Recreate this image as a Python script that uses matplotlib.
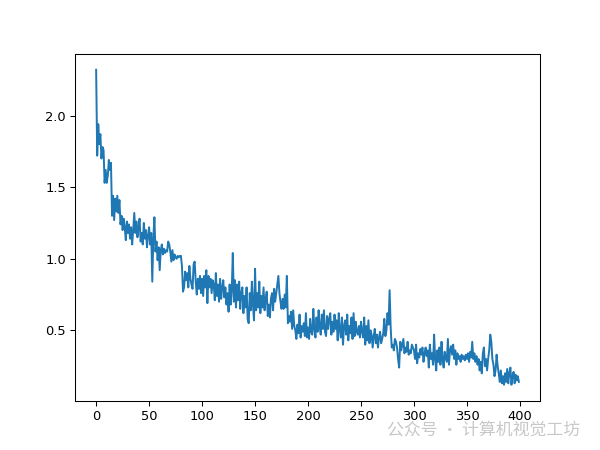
import matplotlib.pyplot as plt

plt.rcParams['font.family'] = ['DejaVu Sans']

# loss values, 400 steps
loss = [
    2.32, 1.72, 1.94, 1.80, 1.87, 1.70, 1.78, 1.76, 1.53, 1.62,
    1.53, 1.58, 1.69, 1.62, 1.67, 1.30, 1.44, 1.27, 1.42, 1.33,
    1.44, 1.32, 1.41, 1.24, 1.30, 1.20, 1.28, 1.22, 1.13, 1.26,
    1.18, 1.24, 1.14, 1.22, 1.10, 1.20, 1.32, 1.18, 1.26, 1.15,
    1.22, 1.28, 1.12, 1.18, 1.10, 1.25, 1.14, 1.20, 1.08, 1.16,
    1.22, 1.10, 1.18, 0.84, 1.15, 1.29, 1.05, 1.12, 0.99, 1.08,
    0.92, 1.06, 1.10, 1.03, 1.07, 1.04, 1.06, 1.05, 1.12, 1.10,
    1.05, 0.98, 1.06, 0.99, 1.03, 1.01, 1.00, 1.02, 1.01, 1.02,
    1.02, 0.95, 0.77, 0.80, 0.91, 0.85, 0.90, 0.80, 0.95, 0.86,
    0.82, 0.79, 0.96, 0.98, 0.84, 0.75, 0.86, 0.79, 0.88, 0.76,
    0.86, 0.74, 0.88, 0.80, 0.92, 0.69, 0.88, 0.80, 0.86, 0.76,
    0.85, 0.82, 0.71, 0.90, 0.74, 0.82, 0.70, 0.86, 0.72, 0.80,
    0.85, 0.73, 0.80, 0.68, 0.76, 0.63, 0.82, 0.68, 0.78, 1.04,
    0.70, 0.85, 0.66, 0.82, 0.71, 0.84, 0.65, 0.76, 0.80, 0.62,
    0.74, 0.66, 0.80, 0.58, 0.55, 0.76, 0.64, 0.84, 0.68, 0.57,
    0.93, 0.64, 0.76, 0.66, 0.84, 0.62, 0.74, 0.66, 0.80, 0.64,
    0.72, 0.77, 0.60, 0.68, 0.59, 0.72, 0.76, 0.64, 0.79, 0.70,
    0.76, 0.82, 0.88, 0.76, 0.70, 0.65, 0.72, 0.65, 0.75, 0.66,
    0.88, 0.55, 0.60, 0.56, 0.63, 0.51, 0.64, 0.53, 0.50, 0.44,
    0.54, 0.48, 0.61, 0.45, 0.53, 0.49, 0.55, 0.46, 0.62, 0.45,
    0.52, 0.44, 0.58, 0.49, 0.47, 0.65, 0.51, 0.45, 0.59, 0.49,
    0.64, 0.53, 0.47, 0.61, 0.51, 0.64, 0.49, 0.46, 0.60, 0.51,
    0.58, 0.62, 0.47, 0.56, 0.49, 0.61, 0.51, 0.57, 0.43, 0.62,
    0.50, 0.45, 0.59, 0.40, 0.53, 0.57, 0.47, 0.61, 0.43, 0.53,
    0.48, 0.59, 0.44, 0.62, 0.46, 0.56, 0.49, 0.47, 0.53, 0.45,
    0.56, 0.49, 0.45, 0.59, 0.40, 0.53, 0.43, 0.57, 0.41, 0.50,
    0.47, 0.38, 0.46, 0.51, 0.41, 0.47, 0.38, 0.45, 0.49, 0.41,
    0.44, 0.48, 0.58, 0.46, 0.50, 0.62, 0.54, 0.78, 0.52, 0.38,
    0.40, 0.36, 0.44, 0.42, 0.38, 0.30, 0.24, 0.42, 0.36, 0.40,
    0.44, 0.34, 0.38, 0.35, 0.42, 0.33, 0.36, 0.34, 0.40, 0.38,
    0.36, 0.30, 0.40, 0.27, 0.34, 0.31, 0.37, 0.33, 0.38, 0.28,
    0.34, 0.38, 0.32, 0.36, 0.24, 0.40, 0.30, 0.34, 0.26, 0.47,
    0.30, 0.22, 0.36, 0.28, 0.38, 0.26, 0.42, 0.30, 0.24, 0.35,
    0.31, 0.28, 0.44, 0.26, 0.36, 0.39, 0.33, 0.40, 0.30, 0.36,
    0.26, 0.34, 0.30, 0.32, 0.28, 0.33, 0.30, 0.32, 0.29, 0.33,
    0.30, 0.34, 0.28, 0.35, 0.31, 0.42, 0.30, 0.34, 0.28, 0.32,
    0.26, 0.30, 0.22, 0.28, 0.20, 0.34, 0.38, 0.25, 0.30, 0.22,
    0.30, 0.36, 0.47, 0.42, 0.30, 0.26, 0.18, 0.22, 0.33, 0.25,
    0.20, 0.14, 0.22, 0.13, 0.18, 0.12, 0.20, 0.14, 0.23, 0.13,
    0.20, 0.24, 0.12, 0.18, 0.21, 0.13, 0.19, 0.15, 0.18, 0.14,
]
steps = list(range(len(loss)))
watermark = "公众号 · 计算机视觉工坊"

fig = plt.figure(figsize=(6.4, 4.8), dpi=93.75)
ax = fig.add_subplot(111)
ax.plot(steps, loss, color="#1f77b4", linewidth=1.5)

# faint wechat-style watermark in the lower right corner
fig.text(0.645, 0.045, watermark, fontsize=13, color="#c8c8c8",
         family=['Noto Sans CJK SC', 'DejaVu Sans'], va='center', ha='left')

fig.savefig("out.png", dpi=93.75)
